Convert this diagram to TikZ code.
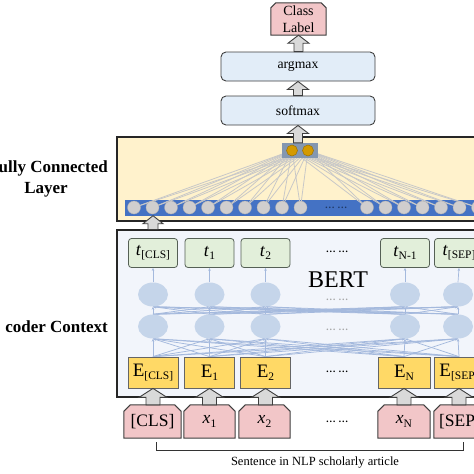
\documentclass[tikz,border=0pt]{standalone}
\usepackage{fontspec}
\setmainfont{Liberation Serif}
\usetikzlibrary{calc,arrows.meta,shapes.geometric}
\pgfdeclarelayer{bg}\pgfdeclarelayer{mid}\pgfsetlayers{bg,mid,main}
\definecolor{pinkfill}{HTML}{F2C6C8}
\definecolor{dkborder}{HTML}{3F3F3F}
\definecolor{lblue}{HTML}{E2EDF8}
\definecolor{fcyellow}{HTML}{FFF2CC}
\definecolor{bertbg}{HTML}{F2F5FB}
\definecolor{tgreen}{HTML}{E2EFDA}
\definecolor{tborder}{HTML}{556055}
\definecolor{egold}{HTML}{FFD966}
\definecolor{ellcol}{HTML}{C5D5EA}
\definecolor{barblue}{HTML}{4472C4}
\definecolor{barcirc}{HTML}{D0CECE}
\definecolor{outbox}{HTML}{8497B0}
\definecolor{outcirc}{HTML}{D49A00}
\definecolor{fcline}{HTML}{C8C8C8}
\definecolor{bline}{HTML}{A4B9DD}
\definecolor{arrfill}{HTML}{D9D9D9}
\definecolor{dotblue}{HTML}{1F3864}
% #1 from, #2 to, #3 half head width, #4 half shaft width, #5 head length
\newcommand{\blockup}[5]{%
  \draw[blockarr] let \p1=(#1), \p2=(#2) in
    (\x2-#4,\y1) -- (\x2-#4,\y2-#5) -- (\x2-#3,\y2-#5) -- (\x2,\y2)
    -- (\x2+#3,\y2-#5) -- (\x2+#4,\y2-#5) -- (\x2+#4,\y1) -- cycle;}
\newcommand{\chamf}[2]{%
  \draw[chamfshape] (#1.south west) -- ([yshift=-#2]#1.north west)
    -- ([xshift=#2]#1.north west) -- ([xshift=-#2]#1.north east)
    -- ([yshift=-#2]#1.north east) -- (#1.south east) -- cycle;}
\newcommand{\sbs}[1]{\raisebox{-3.2pt}{\fontsize{11.5}{13}\selectfont #1}}
\tikzset{
  blockarr/.style={fill=arrfill, draw=dkborder, line width=0.9pt, line join=miter},
  chamfshape/.style={fill=pinkfill, draw=dkborder, line width=1pt},
  chamfnode/.style={inner sep=0pt, font=\fontsize{17.5}{20}\selectfont},
  lbox/.style={draw=dkborder, line width=0.9pt, rounded corners=5pt, fill=lblue,
    minimum width=154pt, minimum height=29pt, inner sep=0pt,
    font=\fontsize{13.7}{16}\selectfont},
  bigbox/.style={draw=black!85, line width=1.3pt, inner sep=0pt},
  tbox/.style={draw=tborder, line width=0.8pt, rounded corners=3pt, fill=tgreen,
    minimum width=49pt, minimum height=29pt, inner sep=0pt,
    font=\fontsize{18}{20}\selectfont},
  ebox/.style={draw=dkborder!80, line width=0.8pt, fill=egold,
    minimum width=50pt, minimum height=31pt, inner sep=0pt,
    font=\fontsize{19}{21}\selectfont},
  neur/.style={ellipse, fill=ellcol, minimum width=30pt, minimum height=24pt, inner sep=0pt},
  barc/.style={circle, fill=barcirc, draw=barcirc!85!black, line width=0.3pt,
    minimum size=13pt, inner sep=0pt},
  outc/.style={circle, fill=outcirc, draw=outcirc!75!black, line width=0.5pt,
    minimum size=11pt, inner sep=0pt},
  fcl/.style={draw=fcline, line width=0.8pt},
  bertl/.style={draw=bline, line width=0.75pt, -{Stealth[length=3pt,width=2.5pt]}},
  thinarr/.style={draw=bline, line width=0.7pt, -{Stealth[length=3pt,width=2.5pt]}},
  dotsn/.style={font=\fontsize{10}{12}\selectfont\bfseries, inner sep=0pt},
  sidelab/.style={font=\fontsize{17}{20}\selectfont\bfseries, inner sep=0pt},
  bracket/.style={draw=black!80, line width=0.8pt},
}
\begin{document}
\begin{tikzpicture}[x=1pt,y=-1pt]
\useasboundingbox (0,0) rectangle (474,474);
\clip (0,0) rectangle (474,474);
% big boxes
\begin{pgfonlayer}{bg}
  \clip (0,0) rectangle (474,474);
  \node[bigbox, fill=fcyellow, minimum width=362pt, minimum height=84pt] (fc) at (298,179) {};
  \node[bigbox, fill=bertbg, line width=1.1pt, minimum width=362pt, minimum height=167pt] (bert) at (298,313.5) {};
  \node[fill=barblue, minimum width=352pt, minimum height=16pt, inner sep=0pt] (bar) at (301,207.5) {};
\end{pgfonlayer}
% top stack
\node[chamfnode, minimum width=55pt, minimum height=32pt, align=center,
  font=\fontsize{14}{17}\selectfont] (cls) at (298.5,19) {Class\\Label};
\node[lbox] (argmax) at (298,66.5) {argmax};
\node[lbox] (softmax) at (298,110.5) {softmax};
% output neurons
\node[fill=outbox, minimum width=36pt, minimum height=15pt, inner sep=0pt] (out) at (300,150.5) {};
\node[outc] (o1) at (292,150.5) {};
\node[outc] (o2) at (308,150.5) {};
% bar circles
\foreach \x [count=\i] in {134,152.5,171,189.5,208,226.5,245,263.5,282,300.5,367,385.5,404,422.5,441,459.5,478}
  \node[barc] (b\i) at (\x,207.5) {};
\node[dotsn, text=dotblue] (bardots) at (336,207.5) {… …};
\begin{pgfonlayer}{mid}
  \clip (0,0) rectangle (474,474);
  \foreach \i in {1,...,17} {
    \draw[fcl] (b\i.center) -- (o1.center);
    \draw[fcl] (b\i.center) -- (o2.center);
  }
\end{pgfonlayer}
% BERT columns
\node[tbox] (t1) at (153,253) {\textit{t}\sbs{[CLS]}};
\node[tbox] (t2) at (209.5,253) {\textit{t}\sbs{1}};
\node[tbox] (t3) at (265.5,253) {\textit{t}\sbs{2}};
\node[tbox] (t4) at (405,253) {\textit{t}\sbs{N-1}};
\node[tbox] (t5) at (459,253) {\textit{t}\sbs{[SEP]}};
\node[dotsn] (tdots) at (337,252) {… …};
\node[font=\fontsize{24}{28}\selectfont, inner sep=0pt] (bertlab) at (338,279.5) {BERT};
\foreach \x [count=\i] in {153,209.5,265.5,405,458} {
  \node[neur] (u\i) at (\x,294.5) {};
  \node[neur] (l\i) at (\x,326.5) {};
}
\node[dotsn, text=black!35] (udots) at (337,299.5) {… …};
\node[dotsn, text=black!35] (ldots) at (337,330) {… …};
\node[ebox] (e1) at (153,372.5) {E\sbs{[CLS]}};
\node[ebox] (e2) at (209.5,372.5) {E\sbs{1}};
\node[ebox] (e3) at (265.5,372.5) {E\sbs{2}};
\node[ebox, minimum width=52pt] (e4) at (404,372.5) {E\sbs{N}};
\node[ebox] (e5) at (459,372.5) {E\sbs{[SEP]}};
\node[dotsn] (edots) at (337,372) {… …};
% tokens
\node[chamfnode, minimum width=57pt, minimum height=33pt] (x1) at (152.5,421.5) {[CLS]};
\node[chamfnode, minimum width=51pt, minimum height=33pt] (x2) at (209.5,421.5) {\textit{x}\sbs{1}};
\node[chamfnode, minimum width=51pt, minimum height=33pt] (x3) at (264.5,421.5) {\textit{x}\sbs{2}};
\node[chamfnode, minimum width=52pt, minimum height=33pt] (x4) at (404,421.5) {\textit{x}\sbs{N}};
\node[chamfnode, minimum width=52pt, minimum height=33pt] (x5) at (460,421.5) {[SEP]};
\node[dotsn] (xdots) at (337,422) {… …};
\begin{pgfonlayer}{mid}
  \clip (0,0) rectangle (474,474);
  \chamf{cls}{5pt}
  \foreach \i in {1,...,5} { \chamf{x\i}{6.5pt} }
  \foreach \i in {1,...,5} {
    \foreach \j in {1,...,5} {
      \draw[bertl] (e\j.north) -- (l\i.south);
      \draw[bertl] (l\j.north) -- (u\i.south);
    }
  }
\end{pgfonlayer}
\foreach \i in {1,...,5} { \draw[thinarr] (u\i.north) -- (t\i.south); }
% side labels
\node[sidelab, anchor=east] (fclab1) at (108,168) {ully Connected};
\node[sidelab] (fclab2) at (46,190) {Layer};
\node[sidelab, anchor=east] (enclab) at (108,327) {coder Context};
% block arrows
\blockup{argmax.north}{cls.south}{10.5pt}{4.5pt}{8pt}
\blockup{softmax.north}{argmax.south}{10.5pt}{4.5pt}{8pt}
\blockup{out.north}{softmax.south}{10.5pt}{4.5pt}{8pt}
\blockup{t1.north |- bert.north}{t1.north |- bar.south}{10pt}{5pt}{8pt}
\foreach \i in {1,...,5} { \blockup{x\i.north}{e\i.south}{14pt}{7pt}{9pt} }
% bracket and caption
\coordinate (brL) at (156,442);
\coordinate (brR) at (463,442);
\draw[bracket] (brL) -- ++(0,8) -| (brR);
\node[font=\fontsize{12.5}{15}\selectfont, inner sep=0pt] (caption) at (315,463) {Sentence in NLP scholarly article};
\end{tikzpicture}
\end{document}
